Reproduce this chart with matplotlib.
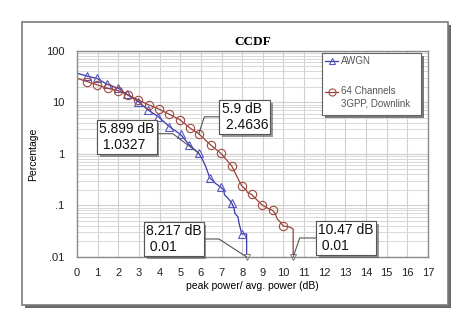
import matplotlib.pyplot as plt
import matplotlib.patheffects as pe
from matplotlib.patches import Rectangle

# AWGN curve (dB, percentage)
awgn_db = [0, 0.47, 0.95, 1.47, 2.0, 2.41, 2.97, 3.45, 3.94, 4.47, 5.02, 5.44, 5.899,
           6.1, 6.25, 6.44, 6.6, 6.7, 6.97, 7.1, 7.15, 7.3, 7.49, 7.6, 7.65, 7.8, 7.85,
           7.98, 8.217, 8.217]
awgn_pct = [37, 32.7, 29.5, 22.5, 18.9, 14.4, 10.4, 7.1, 5.3, 3.4, 2.4, 1.5, 1.0327,
            0.75, 0.55, 0.337, 0.30, 0.27, 0.225, 0.2, 0.16, 0.14, 0.113, 0.09, 0.07, 0.06, 0.045,
            0.028, 0.028, 0.01]
awgn_marks = [1, 2, 3, 4, 5, 6, 7, 8, 9, 10, 11, 12, 15, 18, 22, 27]

# 64 channels 3GPP downlink curve
ch_db = [0, 0.5, 0.99, 1.48, 1.97, 2.48, 2.97, 3.49, 3.98, 4.47, 4.99, 5.47, 5.9, 6.47,
         6.97, 7.49, 7.98, 8.2, 8.25, 8.46, 8.7, 8.97, 9.2, 9.48, 9.6, 9.7, 9.8, 9.99,
         10.3, 10.47, 10.47]
ch_pct = [29.5, 25.4, 21.9, 18.9, 17.0, 14.0, 11.2, 8.9, 7.4, 5.9, 4.6, 3.2, 2.4636, 1.50,
          1.03, 0.59, 0.239, 0.2, 0.18, 0.164, 0.13, 0.102, 0.09, 0.080, 0.07, 0.055, 0.05, 0.040,
          0.038, 0.035, 0.01]
ch_marks = [1, 2, 3, 4, 5, 6, 7, 8, 9, 10, 11, 12, 13, 14, 15, 16, 19, 21, 23, 27]

# marker readouts
ann_db = [5.899, 5.9, 8.217, 10.47]
ann_pct = [1.0327, 2.4636, 0.01, 0.01]
ann_text = ['5.899 dB\n 1.0327', '5.9 dB\n 2.4636', '8.217 dB\n 0.01', '10.47 dB\n 0.01']

series_names = ['AWGN', '64 Channels\n3GPP, Downlink']

x_ticks = list(range(0, 18))
y_ticks = [0.01, 0.1, 1, 10, 100]
y_labels = ['.01', '.1', '1', '10', '100']

plt.rcParams['font.family'] = ['Liberation Sans', 'DejaVu Sans']

dpi = 100
fig = plt.figure(figsize=(474 / dpi, 331 / dpi), dpi=dpi)

# outer chart frame with drop shadow
fig.patches.append(Rectangle((0.0464 + 0.007, 0.0785 - 0.009), 0.8987, 0.855,
                             transform=fig.transFigure, facecolor='#6a6a6a', edgecolor='none', zorder=-3))
fig.patches.append(Rectangle((0.0464, 0.0785), 0.8987, 0.855, transform=fig.transFigure,
                             facecolor='white', edgecolor='#7a7a7a', linewidth=1.2, zorder=-2))

ax = fig.add_axes([0.1624, 0.2236, 0.7405, 0.6224])
ax.set_yscale('log')
ax.set_xlim(0, 17)
ax.set_ylim(0.01, 100)

ax.set_xticks(x_ticks)
ax.set_yticks(y_ticks)
ax.set_yticklabels(y_labels)
ax.tick_params(axis='both', which='both', length=0, labelsize=8, colors='#222222')
ax.tick_params(axis='y', pad=9)
ax.tick_params(axis='x', pad=8)
ax.grid(True, which='major', color='#cfcfcf', linewidth=0.8)
ax.grid(True, which='minor', axis='y', color='#d8d8d8', linewidth=0.7)
ax.set_axisbelow(True)
for s in ax.spines.values():
    s.set_color('#8a8a8a')
    s.set_linewidth(1.0)

awgn_style = dict(color='#3a3aa8', linewidth=0.9, marker='^', markersize=5.5, markerfacecolor='none',
                  markeredgecolor='#5656c4', markeredgewidth=0.8)
ch_style = dict(color='#9a4038', linewidth=0.9, marker='o', markersize=6, markerfacecolor='none',
                markeredgecolor='#a04a40', markeredgewidth=0.8)

ax.plot(awgn_db, awgn_pct, markevery=awgn_marks, **awgn_style)
ax.plot(ch_db, ch_pct, markevery=ch_marks, **ch_style)
ax.plot(ann_db[2:], ann_pct[2:], linestyle='none', marker='v', markersize=4,
        markerfacecolor='white', markeredgecolor='#777777', markeredgewidth=0.7, clip_on=False)

# readout boxes: offset (pixels), arrow start on box, leader angle
offsets = [(-72, 16), (46, 17), (-73, 18), (53, 19)]
relpos = [(1, 0.62), (0, 0.5), (1, 0.5), (0, 0.5)]
angles = [-37, 72, -33, 71]
for x, y, t, off, rp, ang in zip(ann_db, ann_pct, ann_text, offsets, relpos, angles):
    a = ax.annotate(t, xy=(x, y), xytext=off, textcoords='offset pixels', ha='center', va='center',
                    multialignment='left', fontsize=10, linespacing=1.15, color='#111111',
                    bbox=dict(boxstyle='square,pad=0.15', facecolor='white', edgecolor='#555555',
                              linewidth=0.8),
                    arrowprops=dict(arrowstyle='-', color='#555555', linewidth=0.8, relpos=rp,
                                    shrinkA=0, shrinkB=0,
                                    connectionstyle='angle,angleA=0,angleB=%d,rad=0' % ang),
                    annotation_clip=False, zorder=5)
    a.get_bbox_patch().set_path_effects([pe.withSimplePatchShadow(offset=(2, -2), shadow_rgbFace='#555555',
                                                                  alpha=0.6), pe.Normal()])

# legend box drawn by hand so the sample sits on the first text line
box = Rectangle((0.698, 0.689), 0.282, 0.301, transform=ax.transAxes, facecolor='white',
                edgecolor='#666666', linewidth=0.8, zorder=6)
box.set_path_effects([pe.withSimplePatchShadow(offset=(2, -2), shadow_rgbFace='#444444', alpha=0.7),
                      pe.Normal()])
ax.add_patch(box)
for name, style, yy in zip(series_names, [awgn_style, ch_style], [0.951, 0.802]):
    ax.plot([0.707, 0.744], [yy, yy], transform=ax.transAxes, zorder=7, clip_on=False,
            **{**style, 'marker': None})
    ax.plot([0.7255], [yy], transform=ax.transAxes, zorder=7, clip_on=False,
            **{**style, 'markersize': style['markersize'] * 0.85})
    ax.text(0.752, yy + 0.027, name, transform=ax.transAxes, fontsize=7, color='#555555',
            ha='left', va='top', linespacing=1.3, zorder=7)

ax.set_title('CCDF', fontsize=9.5, fontweight='bold', family=['Liberation Serif', 'DejaVu Serif'], pad=4)
ax.set_xlabel('peak power/ avg. power (dB)', fontsize=7.5, labelpad=2)
ax.set_ylabel('Percentage', fontsize=7.5, labelpad=6)

plt.savefig('out.png', dpi=dpi)
plt.close()
